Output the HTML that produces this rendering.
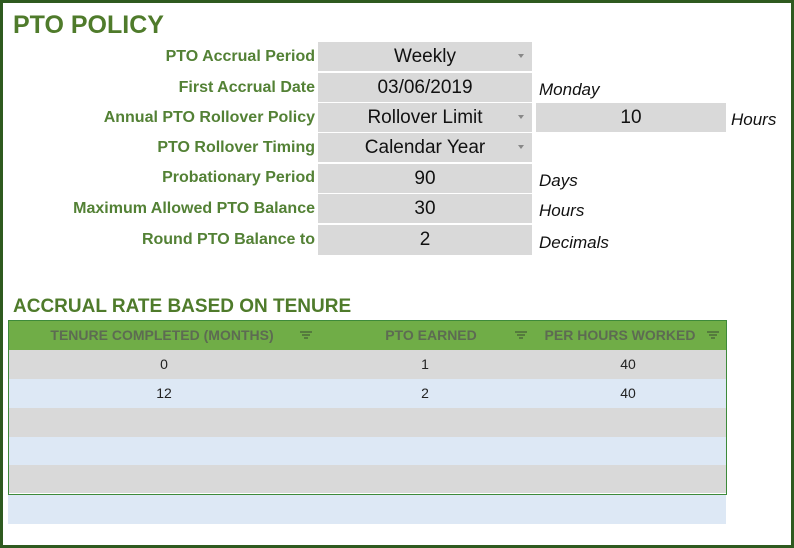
<!DOCTYPE html>
<html><head><style>
body{margin:0;width:794px;height:548px;overflow:hidden;background:#fff;font-family:"Liberation Sans",sans-serif;}
.frame{position:absolute;left:0;top:0;width:788px;height:542px;border:3px solid #2e5a1f;}
.t{position:absolute;color:#4f7b2b;font-weight:bold;}
.lab{position:absolute;right:479px;font-size:16px;font-weight:bold;color:#538135;text-align:right;white-space:nowrap;}
.box{position:absolute;left:318px;width:214px;background:#d9d9d9;font-size:19px;text-align:center;color:#111;}
.dd{position:absolute;right:8px;top:12px;width:0;height:0;border-left:3px solid transparent;border-right:3px solid transparent;border-top:4px solid #888;}
.it{position:absolute;left:539px;font-style:italic;font-size:17px;color:#111;}
.row{position:absolute;left:9px;width:717px;height:29px;font-size:14px;color:#222;}
.row span{position:absolute;top:6px;text-align:center;}
.hd{font-weight:bold;color:#5d6b52;}
</style></head><body>
<div class="frame"></div>
<div class="t" style="left:13px;top:11px;font-size:25px;">PTO POLICY</div>
<div class="lab" style="top:48px">PTO Accrual Period</div>
<div class="lab" style="top:79px">First Accrual Date</div>
<div class="lab" style="top:109px">Annual PTO Rollover Policy</div>
<div class="lab" style="top:139px">PTO Rollover Timing</div>
<div class="lab" style="top:169px">Probationary Period</div>
<div class="lab" style="top:200px">Maximum Allowed PTO Balance</div>
<div class="lab" style="top:231px">Round PTO Balance to</div>

<div class="box" style="top:42px;height:29px;line-height:29px">Weekly<div class="dd"></div></div>
<div class="box" style="top:73px;height:29px;line-height:29px">03/06/2019</div>
<div class="box" style="top:103px;height:29px;line-height:29px">Rollover Limit<div class="dd"></div></div>
<div class="box" style="top:133px;height:29px;line-height:29px">Calendar Year<div class="dd"></div></div>
<div class="box" style="top:164px;height:29px;line-height:29px">90</div>
<div class="box" style="top:194px;height:29px;line-height:29px">30</div>
<div class="box" style="top:225px;height:30px;line-height:30px">2</div>
<div class="box" style="left:536px;width:190px;top:103px;height:29px;line-height:29px">10</div>

<div class="it" style="top:80px">Monday</div>
<div class="it" style="left:731px;top:110px">Hours</div>
<div class="it" style="top:171px">Days</div>
<div class="it" style="top:201px">Hours</div>
<div class="it" style="top:233px">Decimals</div>

<div class="t" style="left:13px;top:296px;font-size:19px;">ACCRUAL RATE BASED ON TENURE</div>
<div style="position:absolute;left:8px;top:320px;width:717px;height:173px;border:1px solid #3d8a3a;"></div>
<div class="row hd" style="top:321px;background:#70ad47;">
<span style="left:0;width:306px">TENURE COMPLETED (MONTHS)</span>
<span style="left:322px;width:200px">PTO EARNED</span>
<span style="left:520px;width:182px">PER HOURS WORKED</span>
</div>
<svg style="position:absolute;left:0;top:0" width="794" height="548">
<g stroke="#4c6b3a" stroke-width="1.5"><path d="M300 332h12M302 335h8M304 338h4M515 332h12M517 335h8M519 338h4M707 332h12M709 335h8M711 338h4"/></g></svg>
<div class="row" style="top:350px;background:#d9d9d9"><span style="left:0;width:310px">0</span><span style="left:316px;width:200px">1</span><span style="left:520px;width:198px">40</span></div>
<div class="row" style="top:379px;background:#dde8f5"><span style="left:0;width:310px">12</span><span style="left:316px;width:200px">2</span><span style="left:520px;width:198px">40</span></div>
<div class="row" style="top:408px;background:#d9d9d9"></div>
<div class="row" style="top:437px;background:#dde8f5"></div>
<div class="row" style="top:465px;background:#d9d9d9;height:28px"></div>
<div class="row" style="top:495px;left:8px;width:718px;background:#dde8f5"></div>
</body></html>
